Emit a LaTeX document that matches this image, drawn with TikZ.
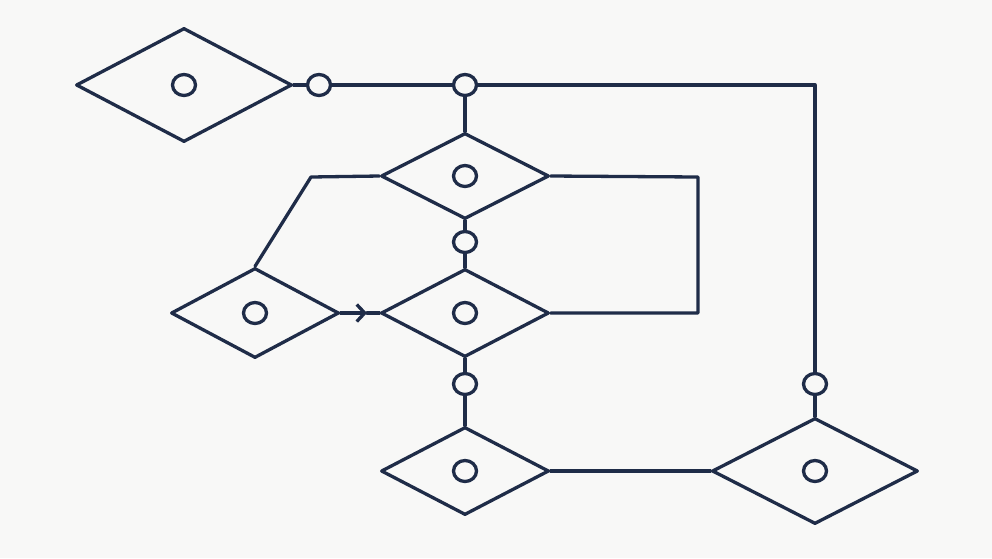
\documentclass[tikz,border=0pt]{standalone}
\usetikzlibrary{shapes.geometric,arrows.meta}
\definecolor{ink}{HTML}{1F2C48}
\definecolor{bg}{HTML}{F8F8F7}
\tikzset{
  dia/.style 2 args={draw=ink, diamond, inner sep=0pt, minimum width=#1, minimum height=#2},
  dot/.style={draw=ink, ellipse, inner sep=0pt, minimum width=23pt, minimum height=21pt},
  link/.style={draw=ink},
}
\begin{document}
\begin{tikzpicture}[x=1pt, y=-1pt, line width=3.3pt, line join=round, line cap=round]
\fill[bg] (0,0) rectangle (992,558);
\useasboundingbox (0,0) rectangle (992,558);
% diamonds
\node[dia={216pt}{114pt}] (D1) at (184,85) {};
\node[dia={168pt}{86pt}]  (D2) at (465,176) {};
\node[dia={168pt}{88pt}]  (D3) at (465,313) {};
\node[dia={168pt}{90pt}]  (D4) at (255,313) {};
\node[dia={168pt}{88pt}]  (D5) at (465,471) {};
\node[dia={206pt}{106pt}] (D6) at (815,471) {};
% inner circles
\node[dot] (D1c) at (D1.center) {};
\node[dot] (D2c) at (D2.center) {};
\node[dot] (D3c) at (D3.center) {};
\node[dot] (D4c) at (D4.center) {};
\node[dot] (D5c) at (D5.center) {};
\node[dot] (D6c) at (D6.center) {};
% connector circles
\node[dot] (C1) at (319,85) {};
\node[dot] (C2) at (465,85) {};
\node[dot] (C3) at (465,242) {};
\node[dot] (C4) at (465,384) {};
\node[dot] (C5) at (815,384) {};
% bend points
\coordinate (rt) at (698,177);
\coordinate (rb) at (698,313);
\coordinate (lb) at (311,177);
\coordinate (tip) at (367,313);
% connectors
\draw[link] (D1.east) -- (C1.west);
\draw[link] (C1.east) -- (C2.west);
\draw[link] (C2.east) -| (C5.north);
\draw[link] (C2.south) -- (D2.north);
\draw[link] (D2.south) -- (C3.north);
\draw[link] (C3.south) -- (D3.north);
\draw[link] (D3.south) -- (C4.north);
\draw[link] (C4.south) -- (D5.north);
\draw[link] (C5.south) -- (D6.north);
\draw[link] (D5.east) -- (D6.west);
\draw[link] (D2.east) -- (rt) -- (rb) -- (D3.east);
\draw[link] (D4.north) -- (lb) -- (D2.west);
\draw[link, -{Straight Barb[length=8pt, width=17pt]}] (D4.east) -- (tip);
\draw[link] (tip) -- (D3.west);
\end{tikzpicture}
\end{document}
